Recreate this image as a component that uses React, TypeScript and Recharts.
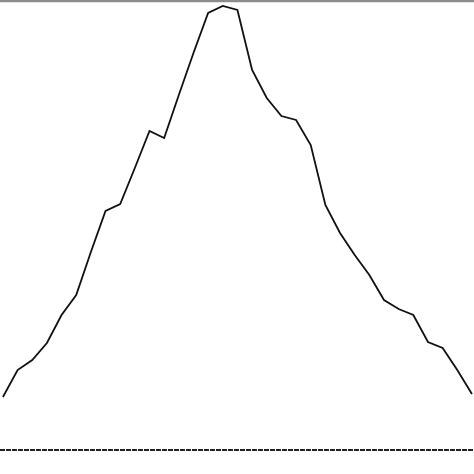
import { LineChart, Line, XAxis, YAxis, ReferenceLine } from "recharts"

// positions along the x axis (one per sample)
const samples = [
  0, 1, 2, 3, 4, 5, 6, 7, 8, 9, 10, 11, 12, 13, 14, 15, 16,
  17, 18, 19, 20, 21, 22, 23, 24, 25, 26, 27, 28, 29, 30, 31, 32,
]

// profile values
const profile = [
  53, 80, 90, 107, 135, 155, 198, 239, 246, 282, 319, 312, 355, 397, 437, 444, 440,
  380, 352, 334, 330, 305, 245, 217, 195, 175, 150, 141, 135, 108, 102, 80, 56,
]

const xDomain = [-0.2, 32.14]
const yDomain = [0, 450]

const data = samples.map((s, i) => ({ s, v: profile[i] }))

export default function App() {
  return (
    <div style={{ position: "absolute", left: 0, top: 0, width: 474, height: 474, background: "#fff" }}>
      <LineChart width={474} height={474} data={data} margin={{ top: 0, right: 0, bottom: 24, left: 0 }}>
        <XAxis dataKey="s" type="number" domain={xDomain} hide allowDataOverflow />
        <YAxis type="number" domain={yDomain} hide allowDataOverflow />
        <ReferenceLine y={449} stroke="#8c8c8c" strokeWidth={2.5} />
        <ReferenceLine y={0} stroke="#222" strokeWidth={1.8} strokeDasharray="5 1" />
        <Line
          type="linear"
          dataKey="v"
          stroke="#111"
          strokeWidth={1.8}
          dot={false}
          activeDot={false}
          isAnimationActive={false}
        />
      </LineChart>
    </div>
  )
}
